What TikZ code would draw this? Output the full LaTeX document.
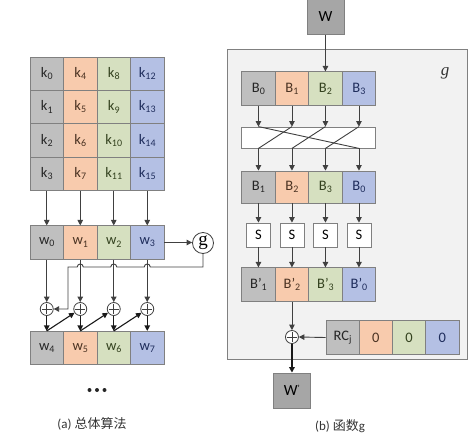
\documentclass[tikz,border=0pt]{standalone}
\usepackage{fontspec}
\setmainfont{Carlito}
\newfontfamily\cjk{Noto Sans CJK SC}
\newfontfamily\serif{Liberation Serif}
\usetikzlibrary{arrows.meta,calc}
\definecolor{cg}{HTML}{BFBFBF}
\definecolor{co}{HTML}{F8CBAD}
\definecolor{cgr}{HTML}{D6E0C0}
\definecolor{cb}{HTML}{B4C0E4}
\definecolor{cw}{HTML}{A6A6A6}
\definecolor{ln}{HTML}{404040}
\definecolor{bd}{HTML}{808080}
\definecolor{panel}{HTML}{F2F2F2}
\definecolor{tg}{HTML}{262626}
\definecolor{to}{HTML}{4A3222}
\definecolor{tgr}{HTML}{34421F}
\definecolor{tb}{HTML}{1F2D5C}
\newcommand\sbs[1]{\raisebox{-0.3ex}{\fontsize{10}{10}\selectfont #1}}
\begin{document}
\begin{tikzpicture}[x=1pt,y=-1pt,
  cell/.style={draw=bd, line width=0.8pt, minimum width=33.5pt, minimum height=33.3pt,
    inner sep=0pt, font=\fontsize{14.5}{16}\selectfont},
  sbox/.style={draw=bd, line width=0.8pt, fill=white, minimum width=24pt, minimum height=24pt,
    inner sep=0pt, font=\fontsize{14.5}{16}\selectfont},
  bigbox/.style={draw=bd, line width=0.8pt, fill=cw, minimum width=37pt, minimum height=35pt,
    inner sep=0pt, font=\fontsize{15.5}{17}\selectfont},
  arr/.style={draw=ln, line width=0.9pt, -{Triangle[length=5.5pt,width=5.5pt]}},
  barr/.style={draw=black!90, line width=1.1pt, -{Triangle[length=5.5pt,width=5.5pt]}},
  wire/.style={draw=ln, line width=0.9pt},
  xor/.style={circle, draw=ln, fill=white, line width=0.8pt, minimum size=13pt, inner sep=0pt,
    path picture={\draw[ln, line width=0.8pt]
      ([yshift=-1.5pt]path picture bounding box.north) -- ([yshift=1.5pt]path picture bounding box.south)
      ([xshift=1.5pt]path picture bounding box.west) -- ([xshift=-1.5pt]path picture bounding box.east);}},
  captxt/.style={font=\fontsize{13}{15}\selectfont, text=black!80},
]
\useasboundingbox (0,0) rectangle (474,434);

% ---------- (a) ----------
\foreach \c/\fc/\tc in {0/cg/tg,1/co/to,2/cgr/tgr,3/cb/tb}{
  \foreach \r in {0,...,3}{
    \pgfmathtruncatemacro\n{4*\c+\r}
    \node[cell, fill=\fc, text=\tc] (k\c\r) at ({30+33.5*(\c+0.5)},{57+33.3*(\r+0.5)}) {k\sbs{\n}};
  }
  \pgfmathtruncatemacro\m{\c+4}
  \node[cell, fill=\fc, text=\tc] (w\c) at ({30+33.5*(\c+0.5)},242.5) {w\sbs{\c}};
  \node[cell, fill=\fc, text=\tc] (w\m) at ({30+33.5*(\c+0.5)},348) {w\sbs{\m}};
  \node[xor] (x\c) at ({30+33.5*(\c+0.5)},309) {};
}
\node[circle, draw=ln, line width=0.8pt, fill=white, minimum size=21pt, inner sep=0pt,
  font=\serif\fontsize{19}{19}\selectfont] (g) at (203,243) {\raisebox{1.5pt}{g}};

\foreach \c in {0,...,3}{
  \pgfmathtruncatemacro\m{\c+4}
  \draw[arr] (k\c3.south) -- (w\c.north);
  \draw[arr] (w\c.south) -- (x\c.north);
  \draw[barr] (x\c.south) -- (w\m.north);
}
\draw[arr] (w3.east) -- (w3.east -| g.west);
\draw[arr] (g.south) -- (203,267) -- (150.25,267)
  .. controls (150.25,263) and (144.25,263) .. (144.25,267) -- (116.75,267)
  .. controls (116.75,263) and (110.75,263) .. (110.75,267) -- (83.25,267)
  .. controls (83.25,263) and (77.25,263) .. (77.25,267) -- (68,267) -- (68,309) -- (x0.east);
\draw[barr] (w4.north) -- (x1);
\draw[barr] (w5.north) -- (x2);
\draw[barr] (w6.north) -- (x3);

\foreach \xx in {89.5,97,104.5}{ \fill[black!85] (\xx,390) circle (2pt); }
\node[captxt] (capa) at (92,424) {(a) {\cjk 总体算法}};

% ---------- (b) ----------
\node[draw=bd, line width=0.8pt, fill=panel, minimum width=240pt, minimum height=310pt,
  inner sep=0pt] (panel) at (347,204) {};
\node[font=\serif\itshape\fontsize{17}{17}\selectfont, text=black!80] (glab) at (445,73) {g};
\node[bigbox] (W) at (325.45,17) {W};

\foreach \c/\fc/\tc/\la/\lb/\lc in {0/cg/tg/0/1/1,1/co/to/1/2/2,2/cgr/tgr/2/3/3,3/cb/tb/3/0/0}{
  \node[cell, fill=\fc, text=\tc] (b\c) at ({241.7+33.5*(\c+0.5)},88.5) {B\sbs{\la}};
  \node[cell, fill=\fc, text=\tc, minimum height=32pt] (c\c) at ({241.7+33.5*(\c+0.5)},187) {B\sbs{\lb}};
  \node[sbox] (s\c) at ({241.7+33.5*(\c+0.5)},235) {S};
  \node[cell, fill=\fc, text=\tc] (d\c) at ({241.7+33.5*(\c+0.5)},284.5) {B'\sbs{\lc}};
}
\node[draw=bd, line width=0.8pt, fill=white, minimum width=134pt, minimum height=21pt,
  inner sep=0pt] (perm) at (308.7,137.5) {};
\foreach \c in {0,...,3}{
  \coordinate (pt\c) at (b\c |- perm.north);
  \coordinate (pb\c) at (b\c |- perm.south);
  \draw[arr] (b\c.south) -- (pt\c);
  \draw[arr] (pb\c) -- (c\c.north);
  \draw[arr] (c\c.south) -- (s\c.north);
  \draw[arr] (s\c.south) -- (d\c.north);
}
\draw[wire] (pt0) -- (pb3);
\draw[wire] (pt1) -- (pb0);
\draw[wire] (pt2) -- (pb1);
\draw[wire] (pt3) -- (pb2);
\draw[arr] (W.south) -- (b2.north);

\node[xor] (xr) at (291.95,337) {};
\foreach \c/\fc/\tc/\lab in {0/cg/tg/RC\sbs{j},1/co/to/0,2/cgr/tgr/0,3/cb/tb/0}{
  \node[cell, fill=\fc, text=\tc, minimum width=33.25pt] (r\c) at ({326+33.25*(\c+0.5)},337.5) {\lab};
}
\node[bigbox] (Wp) at (291.95,390.5) {W\raisebox{0.6ex}{\fontsize{9}{9}\selectfont '}};
\draw[arr] (d1.south) -- (xr.north);
\draw[arr] (r0.west) -- (xr.east);
\draw[barr, line width=1.4pt] (xr.south) -- (Wp.north);

\node[captxt] (capb) at (340,426) {(b) {\cjk 函数}g};
\end{tikzpicture}
\end{document}
